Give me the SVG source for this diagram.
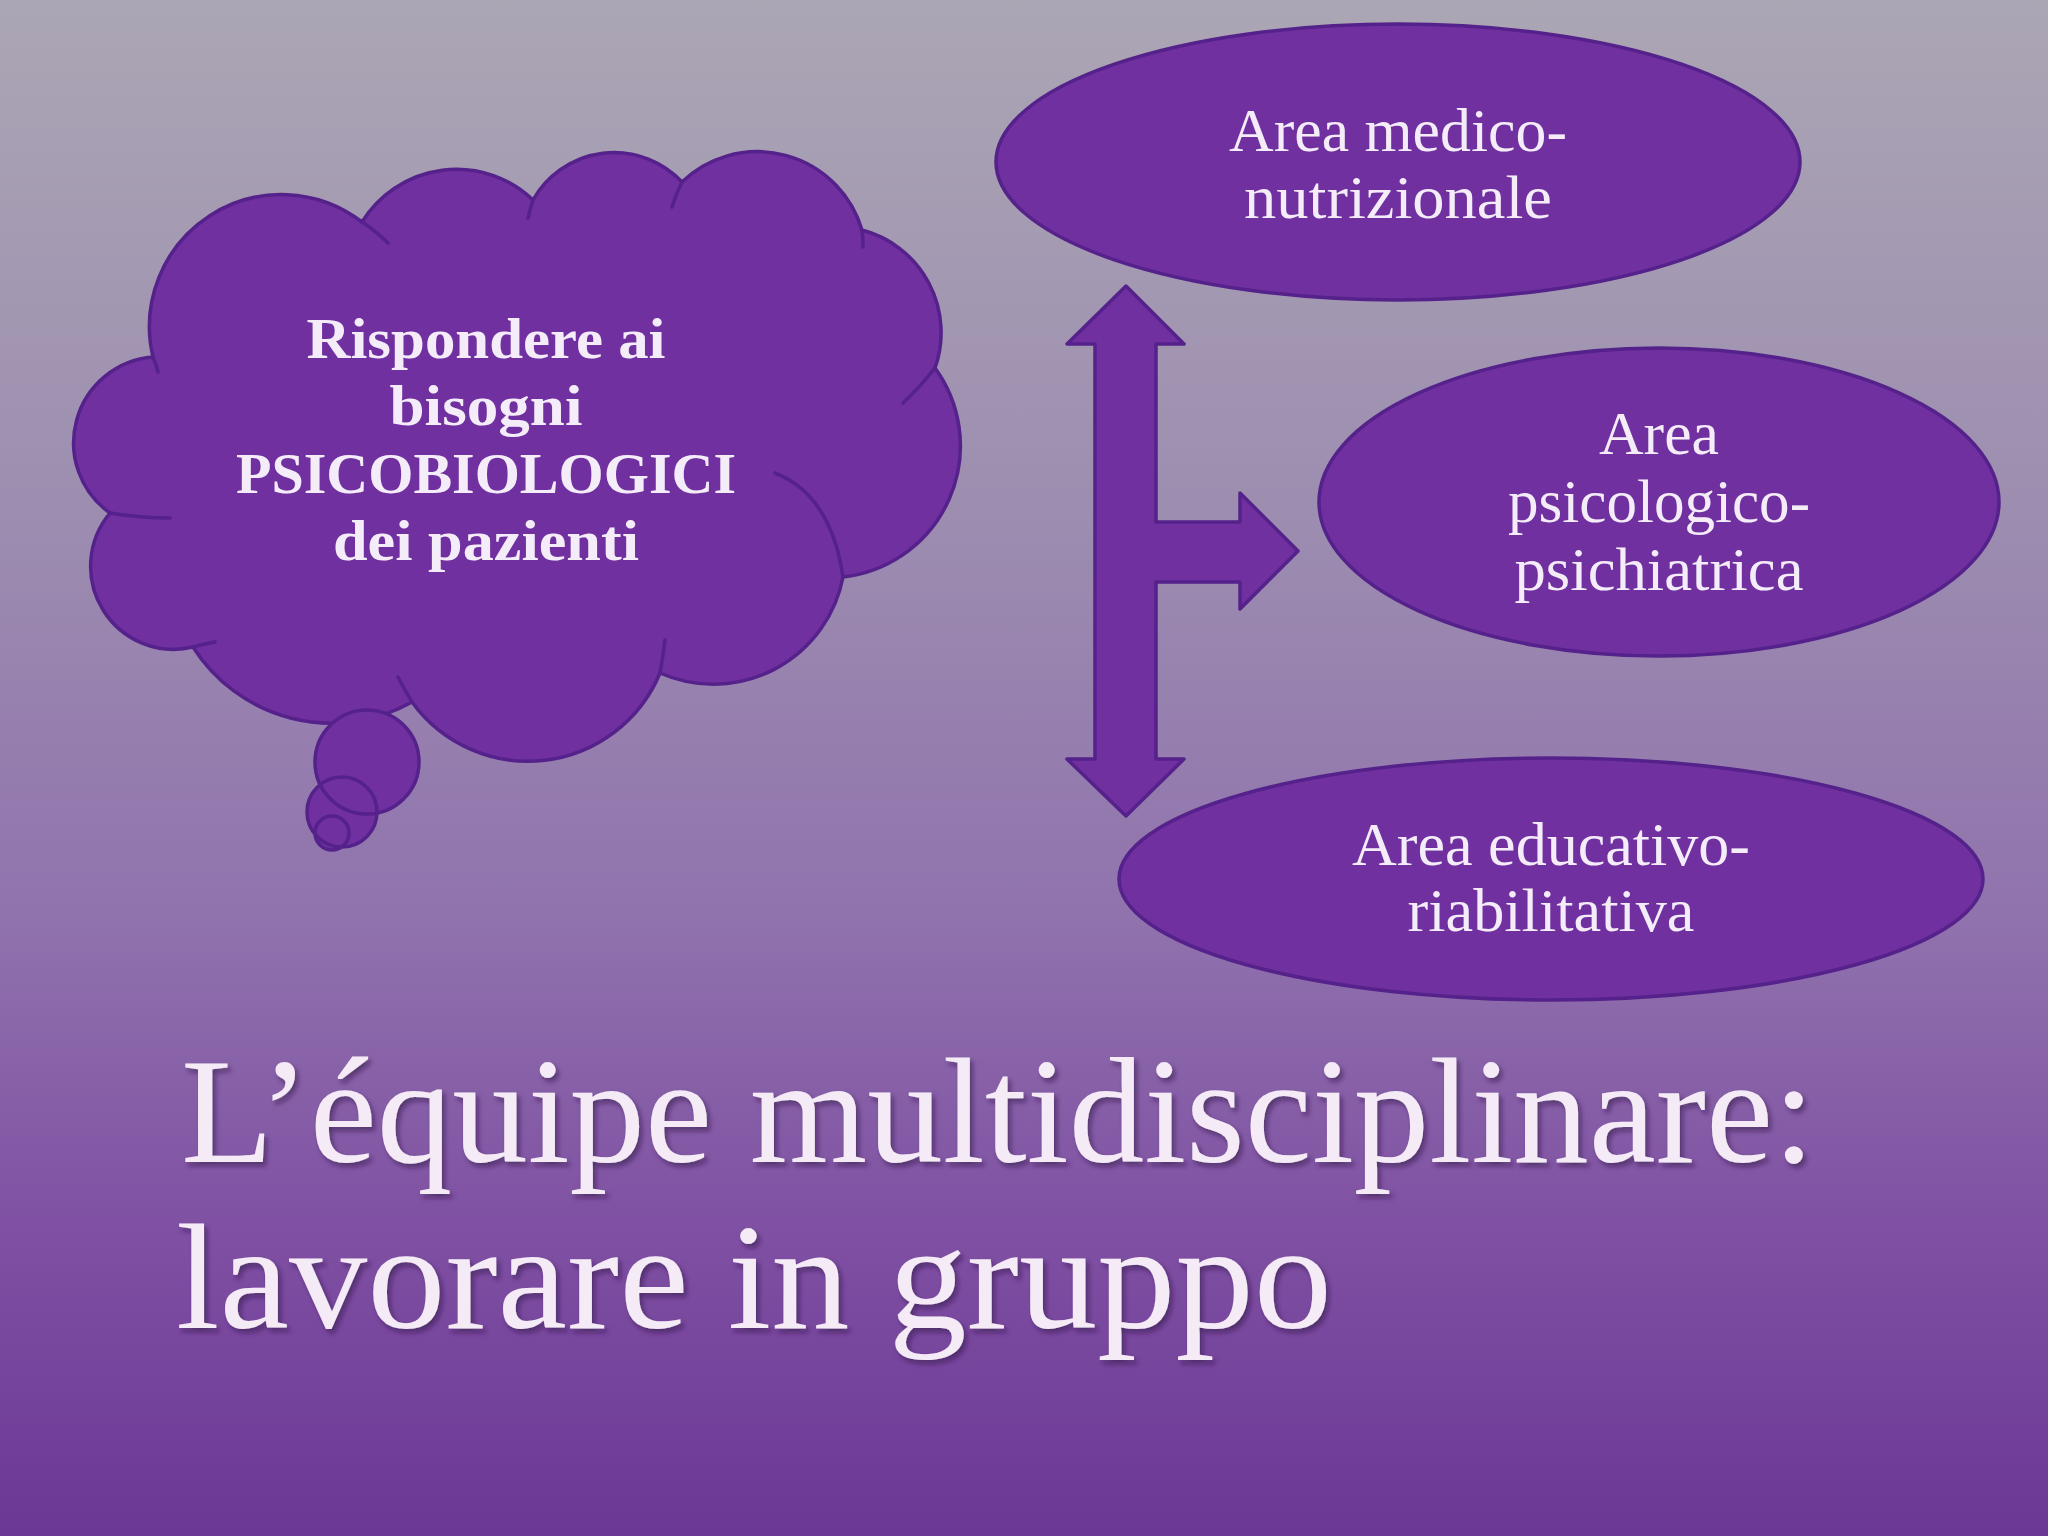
<svg xmlns="http://www.w3.org/2000/svg" width="2048" height="1536" viewBox="0 0 2048 1536">
  <defs>
    <linearGradient id="bg" x1="0" y1="0" x2="0" y2="1">
      <stop offset="0" stop-color="#aba6b4"/>
      <stop offset="0.35" stop-color="#9c8cb0"/>
      <stop offset="0.6" stop-color="#9072ad"/>
      <stop offset="0.8" stop-color="#7f50a3"/>
      <stop offset="1" stop-color="#6b3895"/>
    </linearGradient>
    <filter id="shadow" x="-5%" y="-20%" width="110%" height="140%">
      <feDropShadow dx="3" dy="4" stdDeviation="2.5" flood-color="#2e1045" flood-opacity="0.55"/>
    </filter>
  </defs>
  <style>
    .shape { fill: #7030a0; stroke: #55218a; stroke-width: 3.5; stroke-linejoin: round; }
    .line { fill: none; stroke: #55218a; stroke-width: 3.5; stroke-linecap: round; }
    .lbl { font-family: "Liberation Serif", "DejaVu Serif", serif; fill: #f4ecf8; text-anchor: middle; }
    .bold { font-weight: bold; font-size: 58px; }
    .reg { font-size: 61px; }
    .title { font-family: "Liberation Serif", "DejaVu Serif", serif; font-size: 150px; fill: #f4ebf7; filter: url(#shadow); }
  </style>
  <rect x="0" y="0" width="2048" height="1536" fill="url(#bg)"/>

  <g id="cloud">
    <path class="shape" d="M153,357 A132 132 0 0 1 362,222 A111 111 0 0 1 533,200 A93 93 0 0 1 682,182 A109 109 0 0 1 862,230 A106 106 0 0 1 935,368 A132 132 0 0 1 843,577 A132 132 0 0 1 660,673 A143 143 0 0 1 412,702 A164 164 0 0 1 193,647 A83 83 0 0 1 110,513 A86 86 0 0 1 153,357 Z"/>
    <path class="line" d="M153,357 Q156,364 158,372 M362,222 Q376,231 388,243 M533,200 Q530,209 528,218 M682,182 Q676,194 672,207 M862,230 Q863,238 863,247 M935,368 Q920,387 903,403 M775,473 Q831,495 843,577 M660,673 Q663,656 665,640 M412,702 Q404,689 398,677 M193,647 Q204,644 215,642 M110,513 Q140,518 170,518"/>
    <g>
      <circle cx="367" cy="762" r="52" fill="#7030a0"/>
      <circle cx="342" cy="812" r="35" fill="#7030a0"/>
      <circle cx="332" cy="833" r="17" fill="#7030a0"/>
      <circle cx="367" cy="762" r="52" class="line"/>
      <circle cx="342" cy="812" r="35" class="line"/>
      <circle cx="332" cy="833" r="17" class="line"/>
    </g>
    <text class="lbl bold" x="486" y="358" textLength="359" lengthAdjust="spacingAndGlyphs">Rispondere ai</text>
    <text class="lbl bold" x="486" y="425" textLength="193" lengthAdjust="spacingAndGlyphs">bisogni</text>
    <text class="lbl bold" x="486" y="493" textLength="500" lengthAdjust="spacingAndGlyphs">PSICOBIOLOGICI</text>
    <text class="lbl bold" x="486" y="560" textLength="306" lengthAdjust="spacingAndGlyphs">dei pazienti</text>
  </g>

  <g id="area-medico">
    <ellipse class="shape" cx="1398" cy="162" rx="402" ry="138"/>
    <text class="lbl reg" x="1398" y="151" textLength="338" lengthAdjust="spacingAndGlyphs">Area medico-</text>
    <text class="lbl reg" x="1398" y="218" textLength="308" lengthAdjust="spacingAndGlyphs">nutrizionale</text>
  </g>

  <g id="area-psicologico">
    <ellipse class="shape" cx="1659" cy="502" rx="340" ry="154"/>
    <text class="lbl reg" x="1659" y="454" textLength="120" lengthAdjust="spacingAndGlyphs">Area</text>
    <text class="lbl reg" x="1659" y="522" textLength="302" lengthAdjust="spacingAndGlyphs">psicologico-</text>
    <text class="lbl reg" x="1659" y="590" textLength="289" lengthAdjust="spacingAndGlyphs">psichiatrica</text>
  </g>

  <g id="area-educativo">
    <ellipse class="shape" cx="1551" cy="879" rx="432" ry="121"/>
    <text class="lbl reg" x="1551" y="865" textLength="398" lengthAdjust="spacingAndGlyphs">Area educativo-</text>
    <text class="lbl reg" x="1551" y="931" textLength="287" lengthAdjust="spacingAndGlyphs">riabilitativa</text>
  </g>

  <g id="connectors">
    <path class="shape" d="M1126,286 L1184,344 L1156,344 L1156,522 L1240,522 L1240,493 L1298,551 L1240,609 L1240,582 L1156,582 L1156,759 L1184,759 L1126,816 L1067,759 L1095,759 L1095,344 L1067,344 Z"/>
  </g>

  <g id="title">
    <text class="title" x="181" y="1162" textLength="1634" lengthAdjust="spacingAndGlyphs">L’équipe multidisciplinare:</text>
    <text class="title" x="176" y="1328" textLength="1156" lengthAdjust="spacingAndGlyphs">lavorare in gruppo</text>
  </g>
</svg>
